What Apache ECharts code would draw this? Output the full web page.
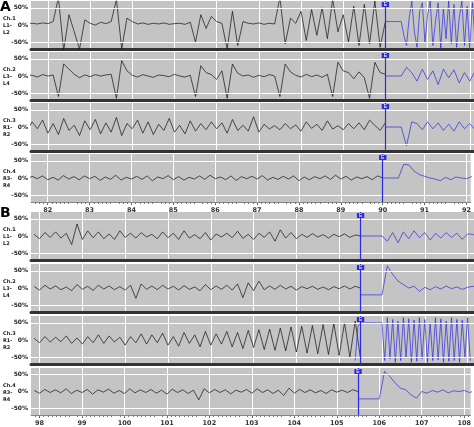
<!DOCTYPE html>
<html>
<head>
<meta charset="utf-8">
<script src="https://cdn.jsdelivr.net/npm/echarts@6/dist/echarts.min.js"></script>
<style>html,body{margin:0;padding:0;background:#fff}#main{width:474px;height:427px}</style>
</head>
<body>
<div id="main"></div>
<script>
// panel A: 81.6 .. 92.1 s, stim at 90.0 ; panel B: 97.8 .. 108.15 s, stim at 105.5
var rangeA = [81.6, 92.1], rangeB = [97.8, 108.15];
var stimA = 90, stimB = 105.5;
var ticksA = [82, 83, 84, 85, 86, 87, 88, 89, 90, 91, 92];
var ticksB = [98, 99, 100, 101, 102, 103, 104, 105, 106, 107, 108];
var chLabels = ['Ch.1\nL1-\nL2', 'Ch.2\nL3-\nL4', 'Ch.3\nR1-\nR2', 'Ch.4\nR3-\nR4'];

// black = before stim (ends at stim, step 0.125); blue = from stim onwards
var a1Black = [5,3,6,4,5,3,6,4,10,80,-75,30,-20,-70,15,5,0,8,4,10,75,-70,20,10,3,6,2,5,3,6,2,4,5,2,8,-50,30,-10,25,10,5,-70,40,-60,10,5,3,6,2,5,3,80,-55,20,5,40,-45,45,-30,50,-40,75,-20,30,-50,55,-60,60,-55,70,-65,10];
var a1Blue = [10,10,10,10,10,10,10,-30,-60,20,70,-20,-65,40,65,-50,30,70,-60,10,65,-70,50,-40,70,-55,60,-65,20,70,-60,55,-70,65,-50]; // step 0.0625
var a2Black = [2,-3,4,0,3,2,-3,4,0,3,-60,35,20,5,-5,3,-2,4,0,3,5,-65,45,15,2,-3,4,0,-4,3,1,-2,5,0,-3,2,-60,30,10,4,-10,15,-65,35,8,0,3,-4,2,-2,4,0,-60,35,12,2,-3,5,-2,3,-4,5,-60,40,15,10,-8,12,-5,-65,40,10,5];
var a2Blue = [0,0,0,0,25,10,-15,20,-10,15,-25,20,-5,18,-20,10,-15,15];
var a3Black = [8,-12,15,-5,20,-18,10,-22,25,-10,5,-25,18,-8,22,-20,12,-15,28,-25,10,-5,20,-18,15,-22,8,-10,25,-15,5,-20,18,-12,10,-8,15,-5,12,-18,22,-10,5,-12,30,-15,8,-6,4,-8,10,-5,6,-12,15,-4,8,-10,18,-6,4,-8,10,-5,12,-8,20,5,-10,12];
var a3Blue = [0,0,0,0,-55,15,10,-8,15,-5,12,-10,8,-12,15,-5,10,-8,18];
var a4Black = [3,-4,5,-2,6,-5,2,-6,7,-3,4,-5,6,-2,5,-7,3,-4,8,-6,2,-3,5,-4,6,-8,3,-2,7,-5,4,-6,2,-3,6,-4,8,-2,3,-5,6,-7,4,-2,5,-3,7,-6,2,-4,5,-3,6,-8,3,-5,4,-2,6,-4,8,-3,5,-6,3,-2,4,-5,6,0];
var a4Blue = [0,0,0,0,40,38,20,10,5,0,-3,-8,2,-5,3,0,-2,4,-3];
var b1Black = [5,-8,10,-4,12,-6,8,-25,35,-10,15,-5,12,-8,6,-10,15,-4,8,-6,10,-3,5,-8,12,-5,8,-10,15,-6,4,-8,10,-12,6,-3,8,-5,14,-7,5,-10,8,-4,12,-15,18,-6,10,-8,5,-4,7,-3,4,-6,5,-2,6,-4,3,0];
var b1Blue = [0,0,0,0,0,-15,10,-20,12,-8,15,-5,10,-12,8,-6,10,-4,8,-10,6,5,-8];
var b2Black = [4,-6,8,-3,6,-5,3,-8,10,-4,5,-7,8,-3,6,-5,4,-6,8,-30,12,-4,6,-5,8,-3,5,-6,7,-4,3,-8,10,-5,6,-4,8,-6,12,-28,15,-8,20,-5,6,-4,8,-3,5,-6,4,-2,5,-4,3,-5,4,-2,6,-3,5,0];
var b2Blue = [-20,-20,-20,-20,-20,65,40,20,10,0,5,-10,2,-5,4,-3,6,-2,3,-4,2,5,0];
var b3Black = [5,-8,10,-6,8,-5,12,-10,6,-12,10,-8,15,-10,12,-6,8,-15,10,-8,18,-12,15,-8,20,-15,10,-18,22,-10,15,-20,25,-15,18,-12,25,-20,22,-25,28,-22,30,-28,32,-30,35,-32,38,-35,40,-38,42,-40,45,-42,48,-45,50,-50,55,-55];
var b3Blue = [-60,40,50,50,50,50,50,50,50,50,50,-60,65,-55,60,-65,55,-60,65,-50,62,-65,58,-62,65,-55,60,-65,50,-60,65,-58,62,-65,55,-62,65,-60,60,-65,58,-50,65,-60]; // from 105.375, step 0.0625
var b4Black = [3,-5,6,-3,5,-4,8,-6,4,-3,6,-8,5,-2,7,-5,3,-6,8,-4,5,-3,6,-5,4,-8,7,-3,5,-6,4,-25,8,-4,6,-3,5,-7,4,-2,6,-5,8,-3,5,-6,4,-12,10,-5,6,-3,5,-4,3,-6,5,-2,4,-3,5,0];
var b4Blue = [-22,-22,-22,-22,-22,60,45,25,10,5,-10,-20,0,-5,3,-2,5,-4,2,0,3,-3,2];

var blackA = [a1Black, a2Black, a3Black, a4Black];
var blueA = [[a1Blue, stimA, 0.0625], [a2Blue, stimA, 0.125], [a3Blue, stimA, 0.125], [a4Blue, stimA, 0.125]];
var blackB = [b1Black, b2Black, b3Black, b4Black];
var blueB = [[b1Blue, stimB, 0.125], [b2Blue, stimB, 0.125], [b3Blue, 105.375, 0.0625], [b4Blue, stimB, 0.125]];

var blue = '#2b2be0';

function before(vals, end, step) {
  return vals.map(function (v, i) { return [end - (vals.length - 1 - i) * step, v]; });
}
function after(vals, start, step) {
  return vals.map(function (v, i) { return [start + i * step, v]; });
}

var myChart = echarts.init(document.getElementById('main'));
var grids = [], xAxes = [], yAxes = [], series = [], graphic = [];
var topsA = [1, 52, 103, 154], topsB = [212, 264, 316, 368];

function addPanel(tops, range, ticks, blacks, blues, stim) {
  for (var c = 0; c < 4; c++) {
    var idx = grids.length;
    var last = c === 3;
    grids.push({ left: 31, right: 0, top: tops[c], height: 48, show: true, backgroundColor: '#c4c4c4', borderWidth: 0 });
    xAxes.push({
      type: 'value', gridIndex: idx, min: range[0], max: range[1],
      axisLine: { show: true, onZero: false, lineStyle: { color: last ? '#888' : '#333', width: last ? 1 : 3 } },
      axisTick: { show: last, length: 3, customValues: ticks, lineStyle: { color: '#555' } },
      minorTick: { show: last, splitNumber: 10, length: 2, lineStyle: { color: '#777' } },
      axisLabel: { show: last, customValues: ticks, fontSize: 6.5, fontWeight: 'bold', color: '#333', margin: 5, fontFamily: 'DejaVu Sans' },
      splitLine: { show: true, lineStyle: { color: '#fff', width: 1 } },
      interval: 1
    });
    yAxes.push({
      type: 'value', gridIndex: idx, min: -70, max: 70,
      axisLine: { show: false }, axisTick: { show: false }, splitLine: { show: false },
      axisLabel: { customValues: [-50, 0, 50], fontSize: 6, fontWeight: 'bold', color: '#222', margin: 3, fontFamily: 'DejaVu Sans',
        formatter: function (v) { return v + '%'; } }
    });
    series.push({
      type: 'line', xAxisIndex: idx, yAxisIndex: idx, data: before(blacks[c], stim, 0.125),
      showSymbol: false, clip: true, lineStyle: { color: '#111', width: 0.7 }, z: 3,
      markLine: { silent: true, symbol: 'none', label: { show: false },
        lineStyle: { color: '#fff', type: 'solid', width: 1 }, data: [{ yAxis: 50 }, { yAxis: -50 }] }
    });
    series.push({
      type: 'line', xAxisIndex: idx, yAxisIndex: idx, data: after(blues[c][0], blues[c][1], blues[c][2]),
      showSymbol: false, clip: true, lineStyle: { color: blue, width: 0.7 }, z: 4,
      markLine: { silent: true, symbol: 'none',
        label: { show: true, position: 'end', formatter: 'E', fontSize: 5, color: '#fff', backgroundColor: blue, padding: [0, 2], distance: -6 },
        lineStyle: { color: blue, type: 'solid', width: 1.2 }, data: [{ xAxis: stim }] }
    });
    graphic.push({ type: 'text', left: 3, top: tops[c] + 14, style: { text: chLabels[c], fontSize: 5, fontWeight: 'bold', fill: '#222', lineHeight: 7, fontFamily: 'DejaVu Sans' } });
  }
}
addPanel(topsA, rangeA, ticksA, blackA, blueA, stimA);
addPanel(topsB, rangeB, ticksB, blackB, blueB, stimB);
graphic.push({ type: 'text', left: 0, top: 0, style: { text: 'A', fontSize: 14, fontWeight: 'bold', fill: '#000', fontFamily: 'DejaVu Sans' } });
graphic.push({ type: 'text', left: 0, top: 206, style: { text: 'B', fontSize: 14, fontWeight: 'bold', fill: '#000', fontFamily: 'DejaVu Sans' } });

myChart.setOption({
  animation: false,
  grid: grids, xAxis: xAxes, yAxis: yAxes, series: series, graphic: graphic
});
</script>
</body>
</html>
